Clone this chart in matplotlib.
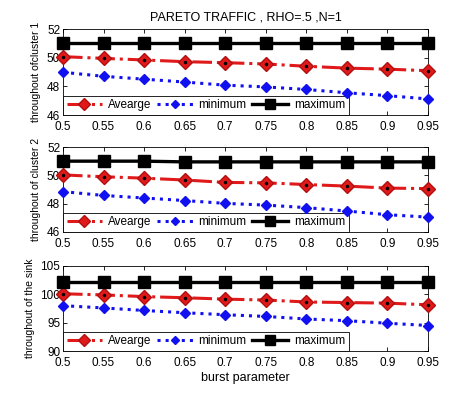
import matplotlib
matplotlib.use("Agg")
import matplotlib.pyplot as plt
import numpy as np

plt.rcParams['font.family'] = ['Liberation Sans', 'DejaVu Sans']

burst = [0.5, 0.55, 0.6, 0.65, 0.7, 0.75, 0.8, 0.85, 0.9, 0.95]
xtick_labels = ["0.5", "0.55", "0.6", "0.65", "0.7", "0.75", "0.8", "0.85", "0.9", "0.95"]

c1_avg = [50.07, 49.95, 49.84, 49.72, 49.65, 49.56, 49.4, 49.27, 49.2, 49.09]
c1_min = [48.98, 48.7, 48.5, 48.3, 48.08, 47.96, 47.78, 47.55, 47.35, 47.12]
c1_max = [51.05, 51.05, 51.05, 51.05, 51.05, 51.05, 51.05, 51.05, 51.05, 51.05]

c2_avg = [50.03, 49.9, 49.8, 49.67, 49.5, 49.47, 49.35, 49.24, 49.1, 49.06]
c2_min = [48.85, 48.58, 48.4, 48.22, 48.02, 47.9, 47.72, 47.48, 47.22, 47.05]
c2_max = [51.0, 51.0, 51.0, 50.95, 50.95, 50.95, 50.95, 50.95, 50.95, 50.95]

sink_avg = [100.1, 99.9, 99.6, 99.4, 99.15, 99.0, 98.65, 98.55, 98.45, 98.15]
sink_min = [98.0, 97.6, 97.15, 96.75, 96.4, 96.1, 95.65, 95.35, 94.9, 94.5]
sink_max = [102.1, 102.1, 102.1, 102.1, 102.1, 102.1, 102.1, 102.1, 102.1, 102.1]

ylabels = ["throughout ofcluster 1", "throughout of cluster 2", "throughout of the sink"]
ylims = [(46, 52), (46, 52), (90, 105)]
yticks = [[46, 48, 50, 52], [46, 48, 50, 52], [90, 95, 100, 105]]
series = [(c1_avg, c1_min, c1_max), (c2_avg, c2_min, c2_max), (sink_avg, sink_min, sink_max)]

fig = plt.figure(figsize=(4.74, 3.95), dpi=100)
fig.patch.set_facecolor('white')

W, H = 474.0, 395.0
boxes = [(29, 115), (147, 232), (266, 351)]
left, right = 63, 428

for i, (top, bot) in enumerate(boxes):
    ax = fig.add_axes([left / W, 1 - bot / H, (right - left) / W, (bot - top) / H])
    avg, mn, mx = series[i]
    ax.plot(burst, avg, color='#e0191b', linestyle='-.', linewidth=2.2, marker='D',
            markersize=7.5, markerfacecolor='#e0191b', markeredgecolor='#b01010',
            label='Avearge', zorder=3, clip_on=False)
    ax.plot(burst, avg, linestyle='none', marker='.', markersize=3, color='black',
            zorder=4, clip_on=False)
    ax.plot(burst, mn, color='#1010f0', linestyle=':', linewidth=2.2, marker='D',
            markersize=5, markerfacecolor='#1010f0', markeredgecolor='#1010f0',
            label='minimum', zorder=3, clip_on=False)
    ax.plot(burst, mx, color='black', linestyle='-', linewidth=2.4, marker='s',
            markersize=8, markerfacecolor='black', markeredgecolor='black',
            label='maximum', zorder=3, clip_on=False)
    ax.set_xlim(0.5, 0.95)
    ax.set_ylim(*ylims[i])
    ax.set_xticks(burst)
    ax.set_xticklabels(xtick_labels)
    ax.set_yticks(yticks[i])
    ax.tick_params(direction='in', top=True, right=True, labelsize=8.5, length=3, width=0.6)
    ax.tick_params(axis='x', pad=4.5)
    ax.tick_params(axis='y', pad=2)
    for s in ax.spines.values():
        s.set_linewidth(0.6)
    ax.set_ylabel(ylabels[i], fontsize=7.5, labelpad=4)
    leg = ax.legend(loc='lower left', ncol=3, fontsize=8.5, frameon=True, fancybox=False,
                    borderaxespad=0.0, handlelength=3.0, columnspacing=0.5, handletextpad=0.5,
                    borderpad=0.3, framealpha=1.0, markerscale=0.85)
    leg.get_frame().set_edgecolor('black')
    leg.get_frame().set_linewidth(0.6)
    leg.set_zorder(2.5)
    if i == 0:
        ax.set_title("PARETO TRAFFIC , RHO=.5 ,N=1", fontsize=9, pad=6)
    if i == 2:
        ax.set_xlabel("burst parameter", fontsize=9, labelpad=2)

fig.savefig("out.png", dpi=100, facecolor='white')
